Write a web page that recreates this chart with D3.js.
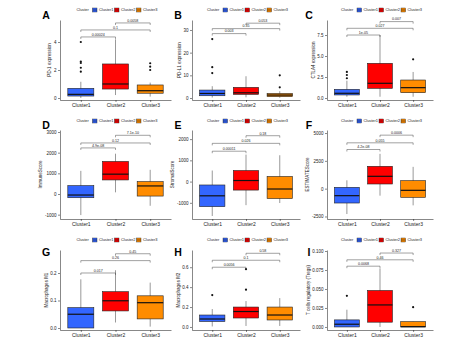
<!DOCTYPE html>
<html>
<head>
<meta charset="utf-8">
<script src="https://cdn.jsdelivr.net/npm/d3@7"></script>
<style>
  body { margin: 0; background: #fff; }
  text { font-family: "Liberation Sans", Arial, sans-serif; }
</style>
</head>
<body>
<div id="chart-area"></div>
<script>
var width = 474, height = 345;

var clusters = ["Cluster1", "Cluster2", "Cluster3"];
var clusterColors = ["#3366FF", "#FF0000", "#FF8C00"];
var pairs = [[0, 1], [0, 2], [1, 2]];

// box stats per cluster: [lower whisker, q1, median, q3, upper whisker]
var pd1Box = [[0.0, 0.14, 0.26, 0.69, 1.16], [0.21, 0.64, 1.0, 2.43, 4.19], [0.1, 0.34, 0.52, 0.93, 1.1]];
var pd1Out = [[4.0, 2.6, 2.5, 2.16, 1.88], [], [2.48, 2.24, 2.0]];
var pd1P = ["0.00024", "0.1", "0.0058"];
var pd1PY = [4.36, 4.86, 5.36];
var pd1Ticks = [0, 2, 4];

var pdl1Box = [[0.2, 1.0, 2.0, 3.5, 5.2], [0.3, 1.6, 2.3, 4.7, 9.6], [0.1, 0.6, 1.3, 2.0, 3.0]];
var pdl1Out = [[26, 13.6, 11], [], [10, 4.7]];
var pdl1P = ["0.003", "0.35", "0.053"];
var pdl1PY = [28.4, 30.6, 33];
var pdl1Ticks = [0, 10, 20, 30];

var ctla4Box = [[0.15, 0.36, 0.56, 1.03, 2.06], [0.15, 1.15, 1.75, 4.13, 7.5], [0.15, 0.63, 1.23, 2.14, 3.1]];
var ctla4Out = [[3.1, 2.74, 2.35], [], [4.6]];
var ctla4P = ["1e-05", "0.027", "0.007"];
var ctla4PY = [7.5, 8.3, 9.1];
var ctla4Ticks = [0, 2.5, 5, 7.5];

var immuneBox = [[-1020, -180, -50, 405, 1120], [80, 680, 960, 1575, 1950], [-570, -100, 390, 600, 1170]];
var immuneOut = [[], [], []];
var immuneP = ["4.9e-08", "0.12", "7.1e-10"];
var immunePY = [2230, 2470, 2840];
var immuneTicks = [-1000, 0, 1000, 2000, 3000];

var stromalBox = [[-1620, -1180, -670, -160, 520], [-1110, -400, 50, 520, 1270], [-1010, -800, -350, 240, 1240]];
var stromalOut = [[], [], []];
var stromalP = ["0.00011", "0.026", "0.18"];
var stromalPY = [1430, 1800, 2160];
var stromalTicks = [-1000, 0, 1000, 2000];

var estimateBox = [[-2280, -1290, -630, 120, 750], [-630, 420, 1110, 2010, 3130], [-1500, -780, -150, 720, 1960]];
var estimateOut = [[], [], []];
var estimateP = ["4.2e-08", "0.055", "0.0006"];
var estimatePY = [3520, 4120, 4810];
var estimateTicks = [-2500, 0, 2500, 5000];

var m1Box = [[0.0, 0.0, 0.05, 0.074, 0.177], [0.02, 0.062, 0.099, 0.132, 0.21], [0.005, 0.033, 0.092, 0.117, 0.165]];
var m1Out = [[], [], []];
var m1P = ["0.017", "0.26", "0.45"];
var m1PY = [0.2, 0.245, 0.27];
var m1Ticks = [0, 0.1, 0.2];

var m2Box = [[0.005, 0.055, 0.08, 0.12, 0.18], [0.01, 0.09, 0.155, 0.2, 0.26], [0.01, 0.07, 0.12, 0.2, 0.29]];
var m2Out = [[0.32], [0.58, 0.375], []];
var m2P = ["0.0056", "0.1", "0.58"];
var m2PY = [0.6, 0.67, 0.74];
var m2Ticks = [0, 0.2, 0.4, 0.6];

var tregBox = [[0.0, 0.0, 0.0036, 0.0093, 0.0227], [0.0, 0.0063, 0.029, 0.048, 0.077], [0.0, 0.0, 0.0004, 0.007, 0.007]];
var tregOut = [[0.041], [], [0.026]];
var tregP = ["0.0068", "0.46", "0.327"];
var tregPY = [0.08, 0.0884, 0.0973];
var tregTicks = [0, 0.025, 0.05, 0.075, 0.1];

// grid layout (3 x 3)
var cols = [{left: 60, right: 171, letter: 46}, {left: 192, right: 300, letter: 178}, {left: 327, right: 433, letter: 309}];
var rows = [{top: 20, bottom: 100, legend: 10, letter: 19},
            {top: 130, bottom: 219, legend: 121, letter: 128.5},
            {top: 250, bottom: 330, legend: 240, letter: 256}];

var panels = [
  {letter: "A", row: 0, col: 0, title: "PD-1 expression", box: pd1Box, out: pd1Out, p: pd1P, py: pd1PY, ticks: pd1Ticks, domain: [-0.143, 5.57], fmt: "d"},
  {letter: "B", row: 0, col: 1, title: "PD-L1 expression", box: pdl1Box, out: pdl1Out, p: pdl1P, py: pdl1PY, ticks: pdl1Ticks, domain: [-0.88, 34.4], fmt: "d"},
  {letter: "C", row: 0, col: 2, title: "CTLA4 expression", box: ctla4Box, out: ctla4Out, p: ctla4P, py: ctla4PY, ticks: ctla4Ticks, domain: [-0.24, 9.29], fmt: ".1f"},
  {letter: "D", row: 1, col: 0, title: "ImmuneScore", box: immuneBox, out: immuneOut, p: immuneP, py: immunePY, ticks: immuneTicks, domain: [-1210, 3097], fmt: "d"},
  {letter: "E", row: 1, col: 1, title: "StromalScore", box: stromalBox, out: stromalOut, p: stromalP, py: stromalPY, ticks: stromalTicks, domain: [-1762, 2429], fmt: "d"},
  {letter: "F", row: 1, col: 2, title: "ESTIMATEScore", box: estimateBox, out: estimateOut, p: estimateP, py: estimatePY, ticks: estimateTicks, domain: [-2727, 5273], fmt: "d"},
  {letter: "G", row: 2, col: 0, title: "Macrophages M1", box: m1Box, out: m1Out, p: m1P, py: m1PY, ticks: m1Ticks, domain: [-0.0073, 0.2836], fmt: ".1f"},
  {letter: "H", row: 2, col: 1, title: "Macrophages M2", box: m2Box, out: m2Out, p: m2P, py: m2PY, ticks: m2Ticks, domain: [-0.0305, 0.773], fmt: ".1f"},
  {letter: "I", row: 2, col: 2, title: "T cells regulatory (Tregs)", box: tregBox, out: tregOut, p: tregP, py: tregPY, ticks: tregTicks, domain: [-0.004, 0.1013], fmt: ".3f"}
];

var svg = d3.select("#chart-area")
  .append("svg")
  .attr("width", width)
  .attr("height", height);

svg.append("rect").attr("width", width).attr("height", height).attr("fill", "#fff");

panels.forEach(function(p) {
  var col = cols[p.col], row = rows[p.row];
  var g = svg.append("g");

  var x = d3.scalePoint()
    .domain(clusters)
    .range([col.left, col.right])
    .padding(0.6);

  var y = d3.scaleLinear()
    .domain(p.domain)
    .range([row.bottom, row.top]);

  var f = d3.format(p.fmt);

  // axes
  var yAxis = g.append("g")
    .attr("transform", "translate(" + col.left + ",0)")
    .call(d3.axisLeft(y).tickValues(p.ticks).tickSize(2).tickSizeOuter(0).tickPadding(1.5)
      .tickFormat(function(d) { return f(d).replace("\u2212", "-"); }));

  var xAxis = g.append("g")
    .attr("transform", "translate(0," + row.bottom + ")")
    .call(d3.axisBottom(x).tickSize(2).tickSizeOuter(0).tickPadding(1.5));

  g.selectAll(".domain, .tick line").attr("stroke", "#111").attr("stroke-width", 0.5);
  yAxis.selectAll("text").attr("font-size", 4.5).attr("fill", "#222");
  xAxis.selectAll("text").attr("font-size", 5).attr("fill", "#222");

  // y title, placed left of the tick labels (bbox is in the axis group's coords)
  var bb = yAxis.node().getBBox();
  g.append("text")
    .attr("transform", "translate(" + (col.left + bb.x - 2.5) + "," + ((row.top + row.bottom) / 2) + ") rotate(-90)")
    .attr("text-anchor", "middle")
    .attr("font-size", 4.5)
    .attr("fill", "#222")
    .text(p.title);

  // boxes
  var bw = x.step() * 0.75;
  var boxes = g.selectAll(".box")
    .data(p.box)
    .enter().append("g")
    .attr("class", "box");

  boxes.append("line")
    .attr("x1", function(d, i) { return x(clusters[i]); })
    .attr("x2", function(d, i) { return x(clusters[i]); })
    .attr("y1", function(d) { return y(d[0]); })
    .attr("y2", function(d) { return y(d[4]); })
    .attr("stroke", "#333")
    .attr("stroke-width", 0.5);

  boxes.append("rect")
    .attr("x", function(d, i) { return x(clusters[i]) - bw / 2; })
    .attr("width", bw)
    .attr("y", function(d) { return y(d[3]); })
    .attr("height", function(d) { return Math.max(0.5, y(d[1]) - y(d[3])); })
    .attr("fill", function(d, i) { return clusterColors[i]; })
    .attr("stroke", "#222")
    .attr("stroke-width", 0.6);

  boxes.append("line")
    .attr("x1", function(d, i) { return x(clusters[i]) - bw / 2; })
    .attr("x2", function(d, i) { return x(clusters[i]) + bw / 2; })
    .attr("y1", function(d) { return y(d[2]); })
    .attr("y2", function(d) { return y(d[2]); })
    .attr("stroke", "#111")
    .attr("stroke-width", 1.2);

  // outliers
  p.out.forEach(function(vals, i) {
    g.selectAll(null)
      .data(vals)
      .enter().append("circle")
      .attr("cx", x(clusters[i]))
      .attr("cy", function(d) { return y(d); })
      .attr("r", 1.1)
      .attr("fill", "#111");
  });

  // comparison brackets
  pairs.forEach(function(pr, k) {
    var x1 = x(clusters[pr[0]]), x2 = x(clusters[pr[1]]), yy = y(p.py[k]);
    g.append("path")
      .attr("d", "M" + x1 + "," + (yy + 2) + "V" + yy + "H" + x2 + "V" + (yy + 2))
      .attr("fill", "none")
      .attr("stroke", "#444")
      .attr("stroke-width", 0.5);
    g.append("text")
      .attr("x", (x1 + x2) / 2)
      .attr("y", yy - 1.2)
      .attr("text-anchor", "middle")
      .attr("font-size", 3.6)
      .attr("fill", "#222")
      .text(p.p[k]);
  });

  // legend on top
  var lg = g.append("g");
  var lx = 0;
  lg.append("text").attr("x", lx).attr("y", 1.4).attr("font-size", 3.9).attr("fill", "#222").text("Cluster");
  lx += 16;
  clusters.forEach(function(c, i) {
    lg.append("rect")
      .attr("x", lx).attr("y", -2).attr("width", 4.5).attr("height", 4)
      .attr("fill", clusterColors[i]).attr("stroke", "#222").attr("stroke-width", 0.4);
    lg.append("line")
      .attr("x1", lx).attr("x2", lx + 4.5).attr("y1", 0).attr("y2", 0)
      .attr("stroke", "#111").attr("stroke-width", 0.5);
    lg.append("text").attr("x", lx + 6.5).attr("y", 1.4).attr("font-size", 3.9).attr("fill", "#222").text(c);
    lx += 22;
  });
  var lw = lx - 4;
  lg.attr("transform", "translate(" + ((col.left + col.right) / 2 - lw / 2) + "," + row.legend + ")");

  // panel letter
  g.append("text")
    .attr("x", col.letter)
    .attr("y", row.letter)
    .attr("text-anchor", "middle")
    .attr("font-size", 10.5)
    .attr("font-weight", "bold")
    .attr("fill", "#000")
    .text(p.letter);
});
</script>
</body>
</html>
